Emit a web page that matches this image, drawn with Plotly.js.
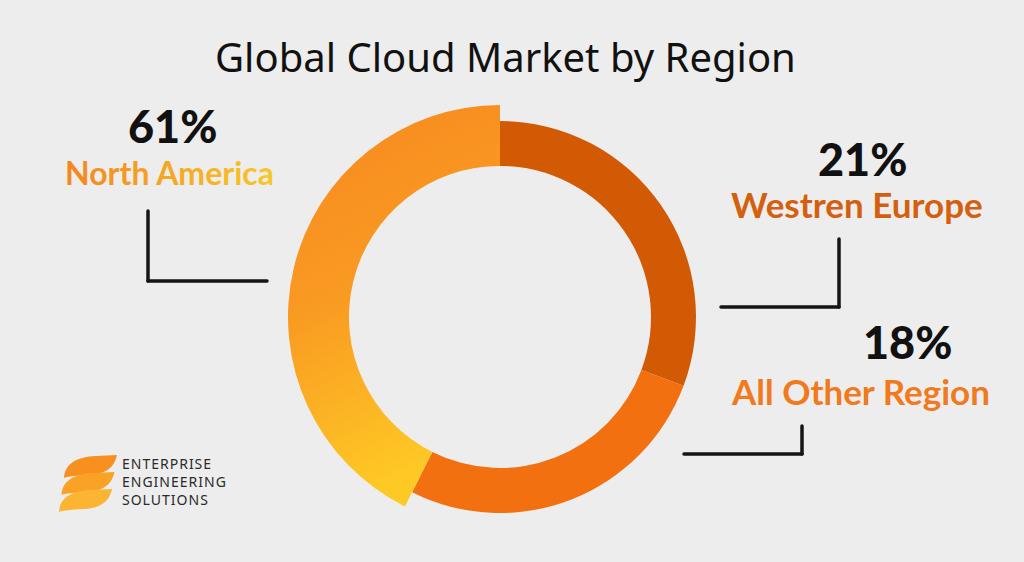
<!DOCTYPE html>
<html>
<head>
<meta charset="utf-8">
<script src="https://cdn.plot.ly/plotly-3.0.1.min.js"></script>
<style>html,body{margin:0;padding:0;background:#ededed;}</style>
</head>
<body>
<div id="chart" style="width:1024px;height:562px;"></div>
<script>
// ---- data ----
var regions = ["Westren Europe", "All Other Region", "North America"];
var shareLabels = ["21%", "18%", "61%"];           // percentages printed on the chart
var arcSizes = [30.7, 26.7, 42.6];                  // arc sizes as drawn in the picture (%)
var sliceColors = ["#d35a05", "#f2700f", "#fa9c22"];
var titleText = "Global Cloud Market by Region";
var logoLines = ["ENTERPRISE", "ENGINEERING", "SOLUTIONS"];

// ---- helpers (pixel -> paper) ----
var W = 1024, H = 562;
function px(x) { return x / W; }
function py(y) { return 1 - y / H; }
function dom(cx, cy, r) {
  return { x: [px(cx - r), px(cx + r)], y: [py(cy + r), py(cy - r)] };
}

var cx = 500, cy = 317;
var rThin = 196, rThick = 212, rHole = 151;

var ringColors = sliceColors.map(function (c, i) { return i === 2 ? "rgba(0,0,0,0)" : c; });
var thickColors = sliceColors.map(function (c, i) { return i === 2 ? c : "rgba(0,0,0,0)"; });

var traces = [
  {
    type: "pie", labels: regions, values: arcSizes, sort: false,
    direction: "clockwise", rotation: 0, hole: rHole / rThin,
    domain: dom(cx, cy, rThin), marker: { colors: ringColors, line: { width: 0 } },
    textinfo: "none", hoverinfo: "label", showlegend: false
  },
  {
    type: "pie", labels: regions, values: arcSizes, sort: false,
    direction: "clockwise", rotation: 0, hole: rHole / rThick,
    domain: dom(cx, cy, rThick), marker: { colors: thickColors, line: { width: 0 } },
    textinfo: "none", hoverinfo: "label", showlegend: false
  }
];

var pctFont = { family: "Lato, 'Open Sans', sans-serif", size: 45, color: "#111111", weight: 900 };
function nameFont(c, s) { return { family: "Lato, 'Open Sans', sans-serif", size: s, color: c, weight: 700 }; }

var labelPos = [
  { pct: [862, 159], name: [857, 204], color: "#d4600f", size: 35 },
  { pct: [907, 342], name: [860, 391], color: "#f07a1d", size: 35 },
  { pct: [172, 126], name: [169, 172], color: "#f79b22", size: 32 }
];

var annotations = [
  { text: titleText, x: px(505), y: py(56), xref: "paper", yref: "paper", showarrow: false,
    xanchor: "center", yanchor: "middle",
    font: { family: "'Noto Sans', 'Open Sans', sans-serif", size: 40, color: "#111111" } }
];
labelPos.forEach(function (p, i) {
  annotations.push({ text: shareLabels[i], x: px(p.pct[0]), y: py(p.pct[1]), xref: "paper", yref: "paper",
    showarrow: false, xanchor: "center", yanchor: "middle", font: pctFont });
  annotations.push({ text: regions[i], x: px(p.name[0]), y: py(p.name[1]), xref: "paper", yref: "paper",
    showarrow: false, xanchor: "center", yanchor: "middle", font: nameFont(p.color, p.size) });
});
annotations.push({ text: logoLines.join("<br>"), x: px(120), y: py(481), xref: "paper", yref: "paper",
  showarrow: false, xanchor: "left", yanchor: "middle", align: "left",
  font: { family: "'Noto Sans', 'Open Sans', sans-serif", size: 14, color: "#2a2a2a" } });

function pathPx(pts) {
  return pts.map(function (s) {
    return s.replace(/(-?\d+(?:\.\d+)?),(-?\d+(?:\.\d+)?)/g, function (m, a, b) {
      return px(+a).toFixed(5) + "," + py(+b).toFixed(5);
    });
  }).join(" ");
}

var leaderLines = [
  [[148, 211], [148, 281], [267, 281]],
  [[721, 307], [839, 307], [839, 239]],
  [[684, 454], [802, 454], [802, 426]]
];
var shapes = [];
leaderLines.forEach(function (ln) {
  for (var k = 0; k < ln.length - 1; k++) {
    shapes.push({ type: "line", xref: "paper", yref: "paper",
      x0: px(ln[k][0]), y0: py(ln[k][1]), x1: px(ln[k + 1][0]), y1: py(ln[k + 1][1]),
      line: { color: "#151515", width: 3.5 } });
  }
});
var leafColors = ["#f7901e", "#f9a226", "#fbb532"];
for (var i = 0; i < 3; i++) {
  var dy = i * 17, dx = -i * 2.5;
  var P = function (x, y) { return (x + dx) + "," + (y + dy); };
  shapes.push({ type: "path", xref: "paper", yref: "paper",
    path: pathPx(["M " + P(64, 478), "C " + P(65, 463) + " " + P(77, 457) + " " + P(96, 456),
                  "L " + P(117, 455), "C " + P(114, 469) + " " + P(104, 474) + " " + P(89, 475),
                  "C " + P(77, 476) + " " + P(69, 476) + " " + P(64, 478), "Z"]),
    fillcolor: leafColors[i], line: { width: 0 } });
}

var layout = {
  width: W, height: H, margin: { l: 0, r: 0, t: 0, b: 0 },
  paper_bgcolor: "#ededed", plot_bgcolor: "#ededed",
  annotations: annotations, shapes: shapes, showlegend: false
};

Plotly.newPlot("chart", traces, layout, { displayModeBar: false, staticPlot: true }).then(function (gd) {
  var svgNS = "http://www.w3.org/2000/svg";
  var svg = gd.querySelector(".main-svg");
  var defs = svg.querySelector("defs") || svg.insertBefore(document.createElementNS(svgNS, "defs"), svg.firstChild);
  function grad(id, x2, y2, stops) {
    var g = document.createElementNS(svgNS, "linearGradient");
    g.setAttribute("id", id); g.setAttribute("x1", "0"); g.setAttribute("y1", "0");
    g.setAttribute("x2", x2); g.setAttribute("y2", y2);
    stops.forEach(function (s) {
      var st = document.createElementNS(svgNS, "stop");
      st.setAttribute("offset", s[0]); st.setAttribute("stop-color", s[1]);
      g.appendChild(st);
    });
    defs.appendChild(g);
  }
  grad("naGrad", "0.25", "1", [["0", "#f7881f"], ["0.5", "#f99a22"], ["1", "#fec925"]]);
  grad("naText", "1", "0", [["0", "#f5861f"], ["1", "#f6c82b"]]);
  var pies = gd.querySelectorAll(".pielayer .trace");
  if (pies.length > 1) {
    var sl = pies[1].querySelectorAll("path.surface");
    if (sl[2]) sl[2].style.fill = "url(#naGrad)";
  }
  gd.querySelectorAll(".annotation-text").forEach(function (t) {
    if (t.textContent === regions[2]) t.style.fill = "url(#naText)";
    if (t.textContent.indexOf(logoLines[0]) === 0) t.style.letterSpacing = "1px";
  });
  gd.querySelectorAll(".shapelayer path").forEach(function (p) { p.style.strokeLinecap = "round"; });
});
</script>
</body>
</html>
